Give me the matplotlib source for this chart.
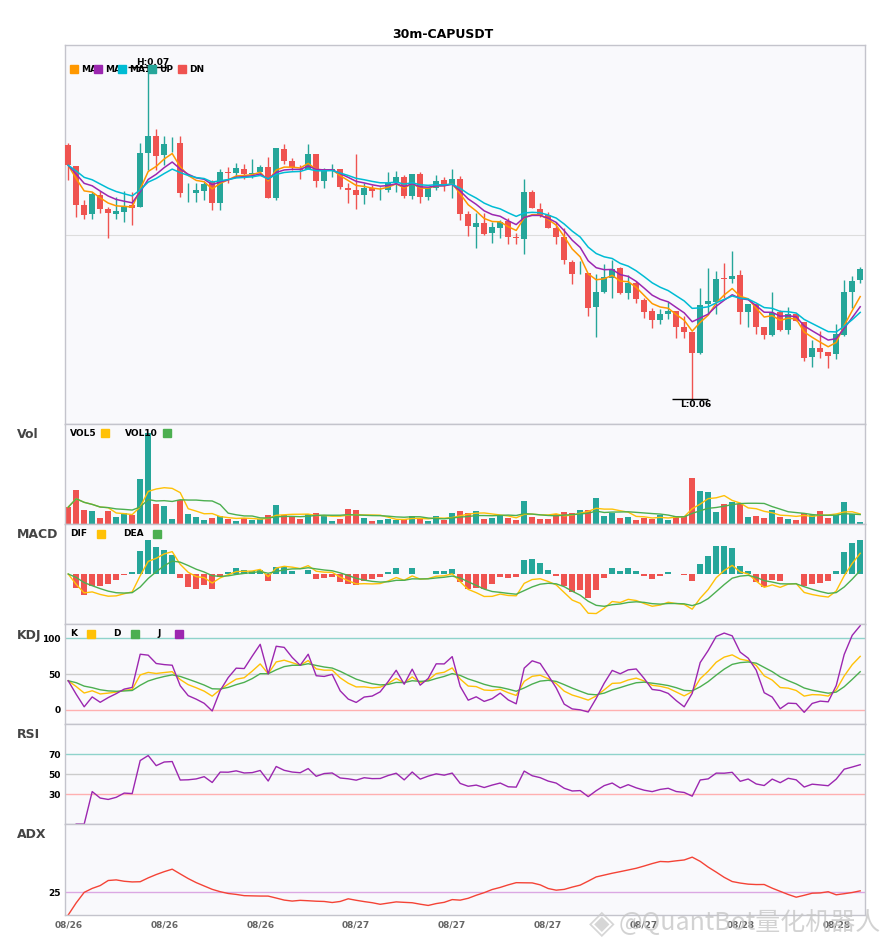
import numpy as np
import pandas as pd
import matplotlib
matplotlib.use("Agg")
import matplotlib.pyplot as plt
from matplotlib.patches import Rectangle

# 30m candles, CAPUSDT
open_ = [0.06770, 0.06707, 0.06590, 0.06563, 0.06620, 0.06578, 0.06563, 0.06569, 0.06590, 0.06584,
         0.06746, 0.06797, 0.06740, 0.06776, 0.06776, 0.06626, 0.06626, 0.06632, 0.06659, 0.06596,
         0.06689, 0.06686, 0.06698, 0.06683, 0.06689, 0.06704, 0.06611, 0.06758, 0.06722, 0.06698,
         0.06698, 0.06743, 0.06662, 0.06692, 0.06698, 0.06641, 0.06635, 0.06620, 0.06641, 0.06632,
         0.06635, 0.06656, 0.06674, 0.06617, 0.06683, 0.06614, 0.06641, 0.06665, 0.06650, 0.06668,
         0.06563, 0.06524, 0.06536, 0.06509, 0.06521, 0.06542, 0.06494, 0.06491, 0.06629, 0.06578,
         0.06560, 0.06521, 0.06497, 0.06422, 0.06387, 0.06389, 0.06287, 0.06332, 0.06374, 0.06404,
         0.06329, 0.06359, 0.06308, 0.06275, 0.06248, 0.06266, 0.06275, 0.06227, 0.06212, 0.06149,
         0.06296, 0.06302, 0.06371, 0.06371, 0.06383, 0.06272, 0.06296, 0.06227, 0.06203, 0.06272,
         0.06218, 0.06266, 0.06242, 0.06137, 0.06164, 0.06152, 0.06146, 0.06203, 0.06332, 0.06368]
high = [0.06776, 0.06707, 0.06605, 0.06629, 0.06632, 0.06584, 0.06614, 0.06632, 0.06629, 0.06776,
        0.07004, 0.06818, 0.06797, 0.06794, 0.06797, 0.06656, 0.06656, 0.06659, 0.06665, 0.06698,
        0.06704, 0.06716, 0.06713, 0.06728, 0.06710, 0.06734, 0.06761, 0.06773, 0.06731, 0.06710,
        0.06773, 0.06743, 0.06701, 0.06713, 0.06698, 0.06656, 0.06743, 0.06656, 0.06650, 0.06644,
        0.06689, 0.06692, 0.06680, 0.06683, 0.06689, 0.06644, 0.06680, 0.06674, 0.06698, 0.06677,
        0.06572, 0.06566, 0.06566, 0.06539, 0.06545, 0.06551, 0.06509, 0.06668, 0.06635, 0.06596,
        0.06569, 0.06539, 0.06521, 0.06428, 0.06425, 0.06389, 0.06386, 0.06416, 0.06428, 0.06407,
        0.06383, 0.06365, 0.06314, 0.06284, 0.06281, 0.06302, 0.06275, 0.06260, 0.06212, 0.06344,
        0.06404, 0.06395, 0.06419, 0.06455, 0.06398, 0.06296, 0.06296, 0.06227, 0.06332, 0.06278,
        0.06287, 0.06269, 0.06242, 0.06188, 0.06215, 0.06152, 0.06236, 0.06368, 0.06380, 0.06407]
low = [0.06665, 0.06554, 0.06548, 0.06548, 0.06566, 0.06494, 0.06548, 0.06539, 0.06530, 0.06584,
       0.06695, 0.06695, 0.06710, 0.06749, 0.06614, 0.06599, 0.06599, 0.06605, 0.06575, 0.06575,
       0.06656, 0.06674, 0.06668, 0.06671, 0.06680, 0.06611, 0.06605, 0.06713, 0.06695, 0.06668,
       0.06698, 0.06644, 0.06641, 0.06674, 0.06638, 0.06596, 0.06578, 0.06593, 0.06614, 0.06605,
       0.06629, 0.06629, 0.06611, 0.06608, 0.06596, 0.06605, 0.06635, 0.06632, 0.06611, 0.06545,
       0.06500, 0.06464, 0.06503, 0.06479, 0.06494, 0.06476, 0.06476, 0.06446, 0.06581, 0.06554,
       0.06521, 0.06476, 0.06416, 0.06356, 0.06386, 0.06260, 0.06197, 0.06329, 0.06314, 0.06326,
       0.06311, 0.06299, 0.06254, 0.06224, 0.06236, 0.06251, 0.06194, 0.06194, 0.06011, 0.06146,
       0.06266, 0.06266, 0.06314, 0.06359, 0.06236, 0.06227, 0.06206, 0.06191, 0.06200, 0.06215,
       0.06206, 0.06245, 0.06125, 0.06107, 0.06134, 0.06104, 0.06131, 0.06200, 0.06284, 0.06359]
close = [0.06710, 0.06590, 0.06560, 0.06623, 0.06578, 0.06566, 0.06572, 0.06584, 0.06581, 0.06746,
         0.06797, 0.06737, 0.06773, 0.06778, 0.06626, 0.06628, 0.06635, 0.06653, 0.06596, 0.06689,
         0.06688, 0.06701, 0.06683, 0.06686, 0.06704, 0.06611, 0.06761, 0.06722, 0.06704, 0.06697,
         0.06743, 0.06662, 0.06692, 0.06698, 0.06644, 0.06635, 0.06620, 0.06641, 0.06632, 0.06633,
         0.06656, 0.06674, 0.06617, 0.06683, 0.06614, 0.06641, 0.06662, 0.06650, 0.06668, 0.06563,
         0.06527, 0.06536, 0.06506, 0.06524, 0.06539, 0.06497, 0.06493, 0.06629, 0.06581, 0.06560,
         0.06521, 0.06497, 0.06428, 0.06386, 0.06389, 0.06284, 0.06332, 0.06377, 0.06401, 0.06329,
         0.06359, 0.06311, 0.06272, 0.06248, 0.06266, 0.06275, 0.06227, 0.06212, 0.06149, 0.06293,
         0.06305, 0.06371, 0.06370, 0.06380, 0.06272, 0.06296, 0.06227, 0.06203, 0.06269, 0.06218,
         0.06266, 0.06245, 0.06134, 0.06164, 0.06152, 0.06140, 0.06206, 0.06332, 0.06365, 0.06401]
volume = [50000, 100000, 43000, 40000, 19000, 40000, 22000, 33000, 26000, 133000,
          270000, 58000, 52000, 16000, 70000, 31000, 22000, 13000, 19000, 25000,
          16000, 10000, 18000, 13000, 15000, 28000, 55000, 26000, 20000, 16000,
          30000, 34000, 26000, 10000, 16000, 46000, 43000, 19000, 10000, 13000,
          16000, 12000, 16000, 25000, 14000, 10000, 25000, 13000, 34000, 40000,
          34000, 40000, 16000, 19000, 25000, 19000, 13000, 67000, 22000, 16000,
          16000, 30000, 37000, 34000, 43000, 43000, 76000, 25000, 34000, 19000,
          22000, 13000, 19000, 16000, 28000, 13000, 25000, 25000, 136000, 97000,
          94000, 37000, 58000, 64000, 58000, 22000, 25000, 19000, 43000, 22000,
          16000, 13000, 34000, 28000, 40000, 19000, 28000, 64000, 31000, 7000]
times = pd.date_range("2025-08-26 06:00", periods=len(close), freq="30min")

UP = "#26a69a"
DN = "#ef5350"

df = pd.DataFrame({"open": open_, "high": high, "low": low, "close": close, "vol": volume})
x = np.arange(len(df))
c = df["close"]

# moving averages
ma5 = c.ewm(span=5, adjust=False).mean()
ma8 = c.ewm(span=8, adjust=False).mean()
ma13 = c.ewm(span=13, adjust=False).mean()
vol5 = df["vol"].rolling(5, min_periods=1).mean()
vol10 = df["vol"].rolling(10, min_periods=1).mean()

# MACD (6, 13, 5)
dif = c.ewm(span=6, adjust=False).mean() - c.ewm(span=13, adjust=False).mean()
dea = dif.ewm(span=5, adjust=False).mean()
hist = 2 * (dif - dea)

# KDJ
low9 = df["low"].rolling(9, min_periods=1).min()
high9 = df["high"].rolling(9, min_periods=1).max()
rsv = (c - low9) / (high9 - low9) * 100
k = rsv.ewm(com=2, adjust=False).mean()
d = k.ewm(com=2, adjust=False).mean()
j = 3 * k - 2 * d

# RSI
delta = c.diff()
gain = delta.clip(lower=0).ewm(com=13).mean()
loss = (-delta.clip(upper=0)).ewm(com=13).mean()
rsi = 100 - 100 / (1 + gain / loss)

# ADX
up_move = df["high"].diff()
dn_move = -df["low"].diff()
plus_dm = pd.Series(np.where((up_move > dn_move) & (up_move > 0), up_move, 0.0))
minus_dm = pd.Series(np.where((dn_move > up_move) & (dn_move > 0), dn_move, 0.0))
prev_c = c.shift(1)
tr = pd.concat([df["high"] - df["low"], (df["high"] - prev_c).abs(), (df["low"] - prev_c).abs()], axis=1).max(axis=1)
atr = tr.ewm(span=14, adjust=False).mean()
pdi = 100 * plus_dm.ewm(span=14, adjust=False).mean() / atr
mdi = 100 * minus_dm.ewm(span=14, adjust=False).mean() / atr
dx = ((pdi - mdi).abs() / (pdi + mdi) * 100).fillna(0)
adx = dx.ewm(span=14, adjust=False).mean()

W, H = 885, 950
fig = plt.figure(figsize=(W / 100, H / 100), dpi=100)
plt.rcParams['font.family'] = ['DejaVu Sans']


def add_panel(top, bottom):
    ax = fig.add_axes([65 / W, 1 - bottom / H, 800 / W, (bottom - top) / H])
    ax.set_facecolor("#f9f9fc")
    for s in ax.spines.values():
        s.set_color("#c4c4cc")
        s.set_linewidth(1)
    ax.set_xlim(-0.4, len(df) - 0.4)
    ax.tick_params(length=0, labelsize=6.5)
    ax.set_xticks([])
    ax.set_yticks([])
    return ax


ax1 = add_panel(45, 424)
ax2 = add_panel(424, 524)
ax3 = add_panel(524, 624)
ax4 = add_panel(624, 724)
ax5 = add_panel(724, 824)
ax6 = add_panel(824, 915)

colors = np.where(df["close"] >= df["open"], UP, DN)

# candles
ax1.vlines(x, df["low"], df["high"], colors=colors, lw=1, zorder=2)
body_lo = np.minimum(df["open"], df["close"])
body_h = np.maximum((df["close"] - df["open"]).abs(), 0.000018)
ax1.bar(x, body_h, bottom=body_lo, width=0.72, color=colors, zorder=3)
ax1.plot(x, ma5, color="#ff9800", lw=1.1, zorder=4)
ax1.plot(x, ma8, color="#9c27b0", lw=1.1, zorder=4)
ax1.plot(x, ma13, color="#00bcd4", lw=1.1, zorder=4)
lo, hi = df["low"].min(), df["high"].max()
rng = hi - lo
ax1.set_ylim(lo - rng * 0.075, hi + rng * 0.066)
ax1.axhline((lo - rng * 0.075 + hi + rng * 0.066) / 2, color="#dddddd", lw=0.8, zorder=1)
ih, il = int(df["high"].idxmax()), int(df["low"].idxmin())
ax1.hlines(hi, ih - 2.5, ih + 2.4, color="black", lw=1, zorder=5)
ax1.text(ih + 0.6, hi, f"H:{hi:.2f}", ha="center", va="bottom", fontsize=6.5, fontweight="bold", zorder=5)
ax1.hlines(lo, il - 2.5, il + 2.0, color="black", lw=1, zorder=5)
ax1.text(il + 0.45, lo - rng * 0.004, f"L:{lo:.2f}", ha="center", va="top", fontsize=6.5, fontweight="bold", zorder=5)

# volume
ax2.bar(x, df["vol"], width=0.72, color=colors)
ax2.plot(x, vol5, color="#ffc107", lw=1)
ax2.plot(x, vol10, color="#4caf50", lw=1)
ax2.set_ylim(0, df["vol"].max() * 1.1)

# MACD
ax3.bar(x, hist, width=0.72, color=np.where(hist >= 0, UP, DN))
ax3.plot(x, dif, color="#ffc107", lw=1)
ax3.plot(x, dea, color="#4caf50", lw=1)
m = hist.abs().max()
ax3.set_ylim(-m * 1.45, m * 1.45)

# KDJ
for lvl, col in [(100, "#8fd3cb"), (50, "#cccccc"), (0, "#ffb0b0")]:
    ax4.axhline(lvl, color=col, lw=1, zorder=1)
ax4.plot(x, k, color="#ffc107", lw=1)
ax4.plot(x, d, color="#4caf50", lw=1)
ax4.plot(x, j, color="#9c27b0", lw=1)
ax4.set_ylim(-20, 120)
ax4.set_yticks([0, 50, 100])

# RSI
for lvl, col in [(70, "#8fd3cb"), (50, "#cccccc"), (30, "#ffb0b0")]:
    ax5.axhline(lvl, color=col, lw=1, zorder=1)
ax5.plot(x, rsi, color="#9c27b0", lw=1)
ax5.set_ylim(0, 100)
ax5.set_yticks([30, 50, 70])

# ADX
ax6.axhline(25, color="#dba8e3", lw=1, zorder=1)
ax6.plot(x, adx, color="#f44336", lw=1)
ax6.set_ylim(0, 100)
ax6.set_yticks([25])

for ax in (ax4, ax5, ax6):
    for t in ax.get_yticklabels():
        t.set_fontweight("bold")
    ax.tick_params(axis="y", pad=3)

tick_pos = list(range(0, len(df), 12))
ax6.set_xticks(tick_pos)
ax6.set_xticklabels([times[i].strftime("%m/%d") for i in tick_pos], fontsize=6.5,
                    fontweight="bold", color="#666666")
ax6.tick_params(axis="x", pad=4)


def px(xp, yp):
    return xp / W, 1 - yp / H


def square(xp, yp, color):
    fig.add_artist(Rectangle(px(xp, yp + 4), 8 / W, 8 / H, transform=fig.transFigure,
                             color=color, zorder=6))


def label(xp, yp, s, **kw):
    fig.text(*px(xp, yp), s, fontsize=6.5, fontweight="bold", va="center", ha="left", **kw)


# main legend (squares drawn over the text like in the source chart)
for xp, name, col in [(70, "MA5", "#ff9800"), (94, "MA8", "#9c27b0"), (118, "MA13", "#00bcd4"),
                      (148, "UP", UP), (178, "DN", DN)]:
    label(xp + 11, 69, name)
    square(xp, 69, col)

for yp, items in [(433, [(70, "VOL5", 101, "#ffc107"), (125, "VOL10", 163, "#4caf50")]),
                  (534, [(70, "DIF", 97, "#ffc107"), (123, "DEA", 153, "#4caf50")]),
                  (634, [(70, "K", 87, "#ffc107"), (113, "D", 131, "#4caf50"), (157, "J", 175, "#9c27b0")])]:
    for tx, name, sx, col in items:
        label(tx, yp, name)
        square(sx, yp, col)

for yp, name in [(434, "Vol"), (535, "MACD"), (635, "KDJ"), (735, "RSI"), (835, "ADX")]:
    fig.text(*px(17, yp), name, fontsize=9, fontweight="bold", color="#444444", va="center")

fig.text(*px(443, 34), "30m-CAPUSDT", fontsize=9, fontweight="bold", ha="center", va="center")

# watermark
fig.text(*px(602, 923), "\u25c8", fontsize=24, color="#cccccc", alpha=0.8, ha="center", va="center", zorder=7)
fig.text(*px(619, 923), "@QuantBot量化机器人", fontsize=18, color="#c4c4c4", alpha=0.75,
         ha="left", va="center", family=["Noto Sans CJK SC", "DejaVu Sans"], zorder=7)

fig.savefig("out.png", dpi=100)
